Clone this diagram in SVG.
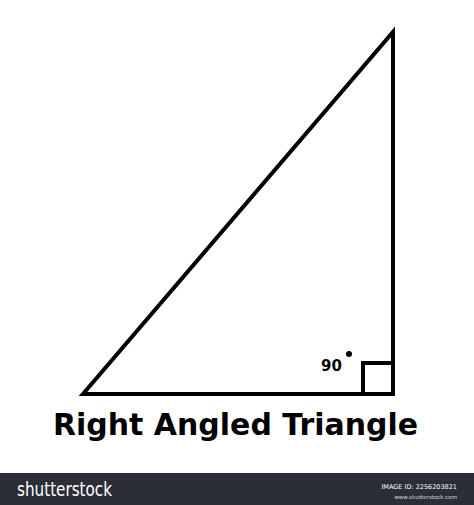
<svg xmlns="http://www.w3.org/2000/svg" width="474" height="505" viewBox="0 0 474 505">
<style>
.ln{fill:none;stroke:#000;stroke-width:4;stroke-linejoin:miter}
.t{font-family:"DejaVu Sans",sans-serif;font-weight:bold;fill:#000}
.f{font-family:"DejaVu Sans",sans-serif;fill:#fff}
</style>
<rect width="474" height="505" fill="#fff"/>
<g id="triangle">
<polygon class="ln" points="83,394 393,394 393,32"/>
</g>
<g id="right-angle">
<polyline class="ln" points="363,394 363,363 393,363"/>
</g>
<g id="angle-label">
<text class="t" x="321" y="371" font-size="15">90</text>
<circle cx="349" cy="354" r="3" fill="#000"/>
</g>
<g id="title">
<text class="t" x="53" y="435" font-size="30" textLength="365" lengthAdjust="spacingAndGlyphs">Right Angled Triangle</text>
</g>
<g id="footer">
<rect x="0" y="473" width="474" height="32" fill="#2b2e37"/>
<text class="f" x="17" y="496" font-size="20" textLength="95" lengthAdjust="spacingAndGlyphs">shutterstock</text>
<text class="f" x="457" y="489" font-size="6.5" text-anchor="end">IMAGE ID: 2256203821</text>
<text class="f" x="457" y="499" font-size="5.5" text-anchor="end" fill-opacity="0.8">www.shutterstock.com</text>
</g>
</svg>
